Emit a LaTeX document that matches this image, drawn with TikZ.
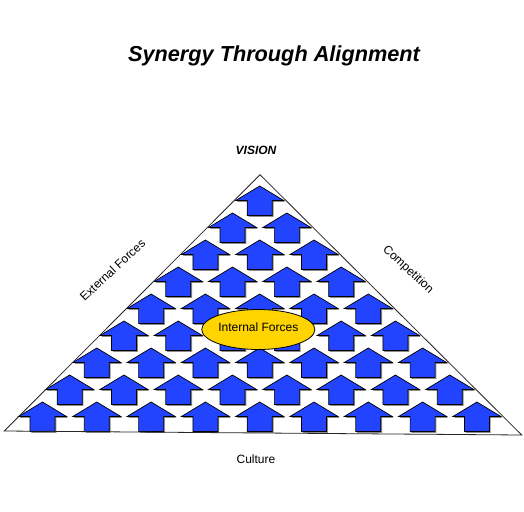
\documentclass[tikz,border=0pt]{standalone}
\usepackage{fontspec}
\setmainfont{Liberation Sans}
\usetikzlibrary{shapes.geometric}
\definecolor{arrowblue}{RGB}{34,68,255}
\definecolor{goldfill}{RGB}{255,212,0}
\tikzset{
  arrowshape/.style={line width=0.7pt, draw=black, fill=arrowblue, line join=miter},
  shadowshape/.style={fill=black!45},
  pics/uparrow/.style={code={
    \fill[shadowshape] (1.3,1.3) -- ++(24,14.5) -- ++(-11.5,0) -- ++(0,15) -- ++(-25,0) -- ++(0,-15) -- ++(-11.5,0) -- cycle;
    \draw[arrowshape] (0,0) -- (24,14.5) -- (12.5,14.5) -- (12.5,29.5) -- (-12.5,29.5) -- (-12.5,14.5) -- (-24,14.5) -- cycle;
  }},
  label12/.style={font=\fontsize{12}{14}\selectfont, inner sep=0pt},
}
\begin{document}
\begin{tikzpicture}[x=1pt,y=-1pt]
\useasboundingbox (0,0) rectangle (524,511);
\fill[white] (0,0) rectangle (524,511);
% arrows
\foreach \n in {1,...,9}{
  \foreach \k in {1,...,\n}{
    \pgfmathsetmacro{\ax}{259.7+(\k-1-(\n-1)/2)*54.3}
    \pgfmathsetmacro{\ay}{186+27*(\n-1)}
    \pic at (\ax,\ay) {uparrow};
  }
}
% triangle
\draw[line width=0.8pt, black!85, line join=miter] (260,174.7) -- (521.7,435) -- (4.3,431) -- cycle;
% ellipse
\node[ellipse, draw=black, line width=0.8pt, fill=goldfill, minimum width=111pt, minimum height=40pt, inner sep=0pt, label12] (internal) at (258.3,329.5) {\raisebox{4pt}{Internal Forces}};
% texts
\node[anchor=base, inner sep=0pt, font=\fontsize{21.7}{26}\selectfont\bfseries\itshape] (title) at (274,61.5) {Synergy Through Alignment};
\node[anchor=base, label12, font=\fontsize{12}{14}\selectfont\bfseries\itshape] (vision) at (256,154) {VISION};
\node[anchor=base, label12] (culture) at (256,463.3) {Culture};
\node[label12, rotate=43] (external) at (112.5,270) {External Forces};
\node[label12, rotate=-43] (competition) at (408,270) {Competition};
\end{tikzpicture}
\end{document}
